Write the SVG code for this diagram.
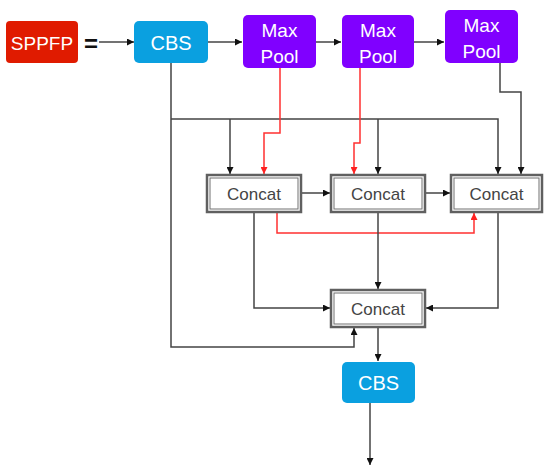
<svg xmlns="http://www.w3.org/2000/svg" width="550" height="473" viewBox="0 0 550 473">
<defs>
<style>
.lbl{font-family:"Liberation Sans",Arial,sans-serif;text-anchor:middle;dominant-baseline:central}
.w{fill:#fff;font-size:20px}
.mp{fill:#fff;font-size:19px}
.c{fill:#444;font-size:17px}
.ln{fill:none;stroke:#444;stroke-width:1.5}
.rd{fill:none;stroke:#ff3030;stroke-width:1.5}
.cat{fill:#fff;stroke:#606060;stroke-width:2.5}
.cati{fill:none;stroke:#707070;stroke-width:1}
</style>
<marker id="a" viewBox="0 0 10 10" refX="10" refY="5" markerWidth="7" markerHeight="7" orient="auto" markerUnits="userSpaceOnUse"><path d="M0,0L10,5L0,10z" fill="#111"/></marker>
<marker id="r" viewBox="0 0 10 10" refX="10" refY="5" markerWidth="7" markerHeight="7" orient="auto" markerUnits="userSpaceOnUse"><path d="M0,0L10,5L0,10z" fill="#ff2020"/></marker>
</defs>
<rect width="550" height="473" fill="#fff"/>
<g id="connectors">
<path class="ln" d="M99,42H134" marker-end="url(#a)"/>
<path class="ln" d="M208,42H242" marker-end="url(#a)"/>
<path class="ln" d="M316,42H341" marker-end="url(#a)"/>
<path class="ln" d="M414,42H444" marker-end="url(#a)"/>
<path class="ln" d="M171,63V347H354V328" marker-end="url(#a)"/>
<path class="ln" d="M171,119H498V174" marker-end="url(#a)"/>
<path class="ln" d="M230,119V174" marker-end="url(#a)"/>
<path class="ln" d="M378,119V174" marker-end="url(#a)"/>
<path class="ln" d="M500,63V92H521V174" marker-end="url(#a)"/>
<path class="rd" d="M280,68V133H264V174" marker-end="url(#r)"/>
<path class="rd" d="M360,68V143H354V174" marker-end="url(#r)"/>
<path class="ln" d="M301,193H330" marker-end="url(#a)"/>
<path class="ln" d="M425,193H450" marker-end="url(#a)"/>
<path class="rd" d="M277,212V233H474V213" marker-end="url(#r)"/>
<path class="ln" d="M254,212V308H330" marker-end="url(#a)"/>
<path class="ln" d="M378,212V289" marker-end="url(#a)"/>
<path class="ln" d="M498,212V308H426" marker-end="url(#a)"/>
<path class="ln" d="M378,327V361" marker-end="url(#a)"/>
<path class="ln" d="M370,403V465" marker-end="url(#a)"/>
</g>
<g id="sppfp"><rect x="6" y="21" width="72" height="42" rx="4" fill="#e01b00"/><text class="lbl w" x="42" y="43" style="font-size:19px">SPPFP</text></g>
<g id="eq"><text class="lbl" x="91" y="43" style="font-size:24px;font-weight:bold;fill:#111">=</text></g>
<g id="cbs1"><rect x="134" y="21" width="74" height="42" rx="5" fill="#0aa0e0"/><text class="lbl w" x="171" y="43">CBS</text></g>
<g id="mp1"><rect x="243" y="15" width="73" height="53" rx="5" fill="#8000ff"/><text class="lbl mp" x="279.5" y="30">Max</text><text class="lbl mp" x="279.5" y="56">Pool</text></g>
<g id="mp2"><rect x="342" y="15" width="72" height="53" rx="5" fill="#8000ff"/><text class="lbl mp" x="378" y="30">Max</text><text class="lbl mp" x="378" y="56">Pool</text></g>
<g id="mp3"><rect x="445" y="10" width="73" height="53" rx="5" fill="#8000ff"/><text class="lbl mp" x="481.5" y="25">Max</text><text class="lbl mp" x="481.5" y="51">Pool</text></g>
<g id="concat1"><rect class="cat" x="207" y="175" width="94" height="37"/><rect class="cati" x="210" y="178" width="88" height="31"/><text class="lbl c" x="254" y="194">Concat</text></g>
<g id="concat2"><rect class="cat" x="331" y="175" width="94" height="37"/><rect class="cati" x="334" y="178" width="88" height="31"/><text class="lbl c" x="378" y="194">Concat</text></g>
<g id="concat3"><rect class="cat" x="451" y="175" width="91" height="37"/><rect class="cati" x="454" y="178" width="85" height="31"/><text class="lbl c" x="496.5" y="194">Concat</text></g>
<g id="concat4"><rect class="cat" x="331" y="290" width="94" height="37"/><rect class="cati" x="334" y="293" width="88" height="31"/><text class="lbl c" x="378" y="309">Concat</text></g>
<g id="cbs2"><rect x="342" y="362" width="73" height="41" rx="5" fill="#0aa0e0"/><text class="lbl w" x="378.5" y="383">CBS</text></g>
</svg>
